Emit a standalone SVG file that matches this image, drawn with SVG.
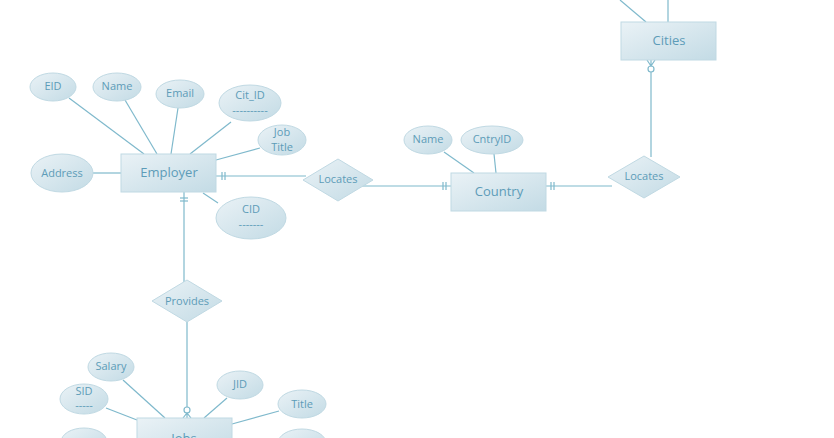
<svg xmlns="http://www.w3.org/2000/svg" width="834" height="438" viewBox="0 0 834 438">
<defs>
<linearGradient id="g" x1="0" y1="0" x2="1" y2="1"><stop offset="0" stop-color="#eaf2f6"/><stop offset="1" stop-color="#c3dbe5"/></linearGradient>
</defs>
<style>
.s{fill:url(#g);stroke:#c0d9e3;stroke-width:1}
.t{font-family:"Open Sans","DejaVu Sans",sans-serif;font-size:11px;fill:#5d9cb8;text-anchor:middle;dominant-baseline:middle}
.b{font-size:13px}
.c line,.c path{stroke:#7fb9cc;stroke-width:1.2;fill:none}
.c circle{stroke:#7fb9cc;stroke-width:1.2;fill:#fff}
</style>
<rect width="834" height="438" fill="#fff"/>
<g class="c" id="connectors">
<line x1="69" y1="98" x2="144" y2="154"/><line x1="125" y1="100" x2="157" y2="154"/><line x1="178" y1="108" x2="171" y2="154"/><line x1="231" y1="122" x2="190" y2="154"/><line x1="260" y1="148" x2="216" y2="160"/><line x1="93" y1="173" x2="121" y2="173"/><line x1="218" y1="203" x2="203" y2="193"/>
<line x1="216" y1="176" x2="306" y2="176"/><line x1="222" y1="172" x2="222" y2="180"/><line x1="225" y1="172" x2="225" y2="180"/>
<line x1="362" y1="186" x2="451" y2="186"/><line x1="443" y1="182" x2="443" y2="190"/><line x1="446" y1="182" x2="446" y2="190"/>
<line x1="444" y1="152" x2="474" y2="173"/><line x1="494" y1="154" x2="496" y2="173"/>
<line x1="546" y1="186" x2="612" y2="186"/><line x1="551" y1="182" x2="551" y2="190"/><line x1="554" y1="182" x2="554" y2="190"/>
<line x1="651" y1="157" x2="651" y2="72"/><circle cx="651" cy="69" r="3"/><path d="M647 60 L651 66 L655 60 M651 60 L651 66"/>
<line x1="668" y1="0" x2="668" y2="22"/><line x1="620" y1="0" x2="646" y2="22"/>
<line x1="184" y1="192" x2="184" y2="282"/><line x1="180" y1="198" x2="188" y2="198"/><line x1="180" y1="201" x2="188" y2="201"/>
<line x1="187" y1="322" x2="187" y2="407"/><circle cx="187" cy="410" r="3"/><path d="M183 418 L187 413 L191 418 M187 413 L187 418"/>
<line x1="123" y1="380" x2="165" y2="418"/><line x1="106" y1="408" x2="137" y2="420"/><line x1="227" y1="398" x2="204" y2="418"/><line x1="279" y1="411" x2="232" y2="424"/>
</g>
<g id="employer"><rect class="s" x="121" y="154" width="95" height="38"/><text class="t b" x="169" y="174">Employer</text></g>
<g id="eid"><ellipse class="s" cx="53" cy="87" rx="23" ry="14"/><text class="t" x="53" y="87">EID</text></g>
<g id="ename"><ellipse class="s" cx="117" cy="87" rx="24" ry="14"/><text class="t" x="117" y="87">Name</text></g>
<g id="email"><ellipse class="s" cx="180" cy="94" rx="24" ry="14"/><text class="t" x="180" y="94">Email</text></g>
<g id="citid"><ellipse class="s" cx="250" cy="103" rx="31" ry="18"/><text class="t" x="250" y="96">Cit_ID</text><text class="t" x="250" y="111">----------</text></g>
<g id="jobtitle"><ellipse class="s" cx="282" cy="140" rx="24" ry="15"/><text class="t" x="282" y="133">Job</text><text class="t" x="282" y="148">Title</text></g>
<g id="address"><ellipse class="s" cx="62" cy="173" rx="31" ry="19"/><text class="t" x="62" y="174">Address</text></g>
<g id="cid"><ellipse class="s" cx="251" cy="218" rx="35" ry="21"/><text class="t" x="251" y="210">CID</text><text class="t" x="251" y="225">-------</text></g>
<g id="locates1"><polygon class="s" points="303,180 338,159 373,180 338,201"/><text class="t" x="338" y="180">Locates</text></g>
<g id="country"><rect class="s" x="451" y="173" width="95" height="38"/><text class="t b" x="499" y="193">Country</text></g>
<g id="cname"><ellipse class="s" cx="428" cy="140" rx="24" ry="14"/><text class="t" x="428" y="140">Name</text></g>
<g id="cntryid"><ellipse class="s" cx="492" cy="140" rx="31" ry="14"/><text class="t" x="492" y="140">CntryID</text></g>
<g id="locates2"><polygon class="s" points="608,177 644,156 680,177 644,198"/><text class="t" x="644" y="177">Locates</text></g>
<g id="cities"><rect class="s" x="621" y="22" width="95" height="38"/><text class="t b" x="669" y="42">Cities</text></g>
<g id="provides"><polygon class="s" points="152,301 187,280 222,301 187,322"/><text class="t" x="187" y="302">Provides</text></g>
<g id="jobs"><rect class="s" x="137" y="418" width="95" height="40"/><text class="t b" x="184" y="440">Jobs</text></g>
<g id="salary"><ellipse class="s" cx="111" cy="367" rx="23" ry="14"/><text class="t" x="111" y="367">Salary</text></g>
<g id="sid"><ellipse class="s" cx="84" cy="399" rx="24" ry="15"/><text class="t" x="84" y="392">SID</text><text class="t" x="84" y="406">-----</text></g>
<g id="jid"><ellipse class="s" cx="240" cy="385" rx="23" ry="14"/><text class="t" x="240" y="385">JID</text></g>
<g id="title"><ellipse class="s" cx="302" cy="404" rx="24" ry="14"/><text class="t" x="302" y="405">Title</text></g>
<g id="attr-bl"><ellipse class="s" cx="84" cy="442" rx="23" ry="14"/></g>
<g id="attr-br"><ellipse class="s" cx="302" cy="443" rx="24" ry="14"/></g>
</svg>
